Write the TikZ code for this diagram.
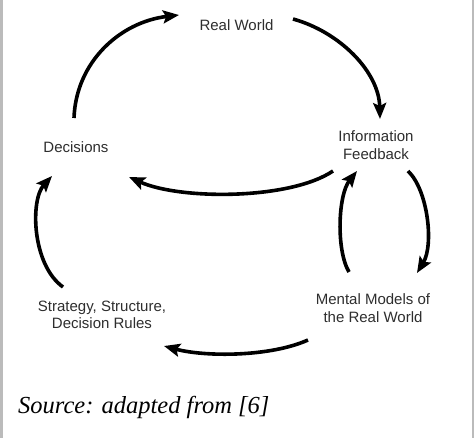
\documentclass[tikz,border=0pt]{standalone}
\usepackage{fontspec}
\setmainfont{Liberation Sans}
\newfontfamily\srcfont{Liberation Serif}
\usetikzlibrary{arrows.meta}
\definecolor{labelgray}{HTML}{2E2E2E}
\definecolor{edgegray}{HTML}{BBBBBB}
\tikzset{
  lbl/.style={text=labelgray, font=\fontsize{15}{17.5}\selectfont, align=center, inner sep=0pt},
  loop/.style={line width=3.6pt, -{Stealth[length=16pt,width=13pt,inset=3pt]}}
}
\begin{document}
\begin{tikzpicture}[x=1pt,y=-1pt]
\useasboundingbox (0,0) rectangle (474,438);
\fill[white] (0,0) rectangle (474,438);
\fill[edgegray] (0,0) rectangle (2.5,438);
\fill[edgegray] (471.5,0) rectangle (474,438);
% labels
\node[lbl] (rw) at (236.5,25) {Real World};
\node[lbl] (dec) at (76,147) {Decisions};
\node[lbl] (inf) at (376,145) {Information\\Feedback};
\node[lbl] (str) at (102,315) {Strategy, Structure,\\Decision Rules};
\node[lbl] (mm) at (373,308) {Mental Models of\\the Real World};
\node[anchor=base west, inner sep=0pt, font=\srcfont\itshape\fontsize{24.5}{28}\selectfont] (src) at (18,413) {Source: adapted from [6]};
% connector end points
\coordinate (a1) at (74,118);  \coordinate (b1) at (179,15);
\coordinate (a2) at (293,19);  \coordinate (b2) at (380,119);
\coordinate (a3) at (333,171); \coordinate (b3) at (129,177);
\coordinate (a4) at (408,171); \coordinate (b4) at (417,273);
\coordinate (a5) at (349,272); \coordinate (b5) at (357,171);
\coordinate (a6) at (308,340); \coordinate (b6) at (164,346);
\coordinate (a7) at (63,287);  \coordinate (b7) at (52,176);
% connectors
\draw[loop] (a1) .. controls (76,62) and (120,22) .. (b1);
\draw[loop] (a2) .. controls (340,32) and (379,72) .. (b2);
\draw[loop] (a3) .. controls (290,200) and (180,200) .. (b3);
\draw[loop] (a4) .. controls (428,190) and (434,245) .. (b4);
\draw[loop] (a5) .. controls (336,250) and (338,195) .. (b5);
\draw[loop] (a6) .. controls (270,357) and (205,357) .. (b6);
\draw[loop] (a7) .. controls (32,265) and (30,200) .. (b7);
\end{tikzpicture}
\end{document}
